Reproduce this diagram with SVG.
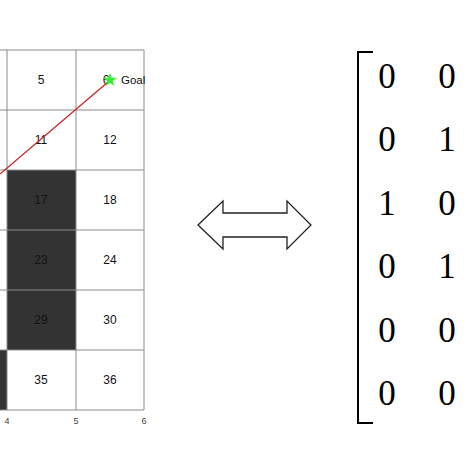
<svg xmlns="http://www.w3.org/2000/svg" width="474" height="474" viewBox="0 0 474 474">
<style>
.grid{stroke:#8a8a8a;stroke-width:1;fill:none}
.dark{fill:#333333}
.num{font-family:"Liberation Sans",Arial,sans-serif;font-size:12px;fill:#111;text-anchor:middle}
.tick{font-family:"Liberation Sans",Arial,sans-serif;font-size:9px;fill:#444;text-anchor:middle}
.mat{font-family:"Liberation Serif","Times New Roman",serif;font-size:35px;fill:#000;text-anchor:middle}
</style>
<rect width="474" height="474" fill="#fff"/>
<g id="grid">
  <rect class="dark" x="7" y="170" width="69" height="180"/>
  <rect class="dark" x="0" y="350" width="7" height="60"/>
  <path class="grid" d="M0 50H144M0 110H144M0 170H144M0 230H144M0 290H144M0 350H144M0 410H144M7 50V410M76 50V410M144 50V410"/>
  <text class="num" x="41" y="84">5</text>
  <text class="num" x="106" y="84">6</text>
  <text class="num" x="41" y="144">11</text>
  <text class="num" x="110" y="144">12</text>
  <text class="num" x="41" y="204">17</text>
  <text class="num" x="110" y="204">18</text>
  <text class="num" x="41" y="264">23</text>
  <text class="num" x="110" y="264">24</text>
  <text class="num" x="41" y="324">29</text>
  <text class="num" x="110" y="324">30</text>
  <text class="num" x="41" y="384">35</text>
  <text class="num" x="110" y="384">36</text>
  <text class="tick" x="7" y="424">4</text>
  <text class="tick" x="76" y="424">5</text>
  <text class="tick" x="144" y="424">6</text>
</g>
<g id="path">
  <line x1="0" y1="174" x2="108" y2="82" stroke="#cc2222" stroke-width="1.3"/>
</g>
<g id="goal">
  <polygon fill="#33ee33" points="110,73 111.8,77.8 117,77.8 112.8,81 114.3,86 110,83 105.7,86 107.2,81 103,77.8 108.2,77.8"/>
  <text x="121" y="84" font-family="Liberation Sans,Arial,sans-serif" font-size="11.5" fill="#111">Goal</text>
</g>
<g id="arrow">
  <polygon points="198,225 223,201 223,213 287,213 287,201 311,225 287,249 287,237 223,237 223,249" fill="#fff" stroke="#222" stroke-width="1.3"/>
</g>
<g id="matrix">
  <path d="M373 52H358V423H373" fill="none" stroke="#000" stroke-width="2"/>
  <text class="mat" x="387" y="88">0</text>
  <text class="mat" x="447" y="88">0</text>
  <text class="mat" x="387" y="151">0</text>
  <text class="mat" x="447" y="151">1</text>
  <text class="mat" x="387" y="215">1</text>
  <text class="mat" x="447" y="215">0</text>
  <text class="mat" x="387" y="278">0</text>
  <text class="mat" x="447" y="278">1</text>
  <text class="mat" x="387" y="342">0</text>
  <text class="mat" x="447" y="342">0</text>
  <text class="mat" x="387" y="405">0</text>
  <text class="mat" x="447" y="405">0</text>
</g>
</svg>
